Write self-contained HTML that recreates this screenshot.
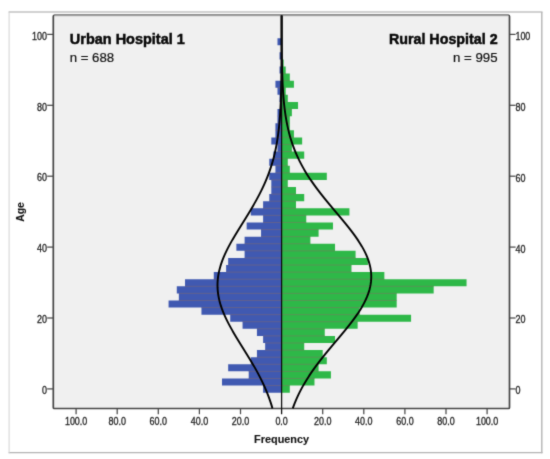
<!DOCTYPE html>
<html lang="en">
<head>
<meta charset="utf-8">
<title>Age distribution by hospital</title>
<style>
html,body{margin:0;padding:0;background:#fff;}
body{width:550px;height:459px;overflow:hidden;}
svg{display:block;}
.t{font-family:"Liberation Sans",sans-serif;font-size:10.3px;fill:#262626;stroke:#262626;stroke-width:0.32px;}
.b{font-family:"Liberation Sans",sans-serif;font-weight:bold;fill:#080808;stroke:#080808;stroke-width:0.5px;}
.a{font-family:"Liberation Sans",sans-serif;font-weight:bold;fill:#141414;stroke:#141414;stroke-width:0.12px;}
.h{font-family:"Liberation Sans",sans-serif;fill:#111;stroke:#111;stroke-width:0.2px;}
</style>
</head>
<body>
<svg width="550" height="459" viewBox="0 0 550 459">
<defs><filter id="soft" filterUnits="userSpaceOnUse" x="0" y="0" width="550" height="459" color-interpolation-filters="sRGB"><feConvolveMatrix order="3" kernelMatrix="0.02 0.09 0.02 0.09 0.56 0.09 0.02 0.09 0.02" divisor="1" edgeMode="duplicate" preserveAlpha="true"/></filter></defs>
<g filter="url(#soft)">
<rect x="0" y="0" width="550" height="459" fill="#ffffff"/>
<g fill="none">
<line x1="8.6" y1="11.9" x2="542.5" y2="11.9" stroke="#c2c2c2" stroke-width="1.5"/>
<line x1="541.8" y1="11.9" x2="541.8" y2="453.3" stroke="#b4b4b4" stroke-width="1.4"/>
<line x1="8.6" y1="452.7" x2="542.5" y2="452.7" stroke="#b4b4b4" stroke-width="1.3"/>
<line x1="9.1" y1="11.9" x2="9.1" y2="453.3" stroke="#d2d2d2" stroke-width="1"/>
</g>
<rect x="53.3" y="15.4" width="456.20" height="393.10" rx="1" fill="#f0f0f0" stroke="#454545" stroke-width="1.7"/>
<line x1="54.3" y1="14.9" x2="508.5" y2="14.9" stroke="#8e8e8e" stroke-width="1.7"/>
<line x1="54.3" y1="16.2" x2="508.5" y2="16.2" stroke="#f0f0f0" stroke-width="1"/>
<path d="M281.60,392.64 L263.11,392.64 L263.11,385.55 L222.01,385.55 L222.01,378.46 L248.72,378.46 L248.72,371.37 L228.17,371.37 L228.17,364.28 L250.78,364.28 L250.78,357.19 L256.94,357.19 L256.94,350.10 L265.16,350.10 L265.16,343.01 L263.11,343.01 L263.11,335.92 L256.94,335.92 L256.94,328.83 L242.56,328.83 L242.56,321.74 L230.23,321.74 L230.23,314.65 L201.46,314.65 L201.46,307.56 L168.58,307.56 L168.58,300.47 L178.85,300.47 L178.85,293.38 L176.80,293.38 L176.80,286.29 L185.02,286.29 L185.02,279.20 L213.79,279.20 L213.79,272.11 L226.12,272.11 L226.12,265.02 L228.17,265.02 L228.17,257.94 L244.61,257.94 L244.61,250.84 L236.39,250.84 L236.39,243.75 L244.61,243.75 L244.61,236.66 L261.05,236.66 L261.05,229.57 L246.67,229.57 L246.67,222.48 L263.11,222.48 L263.11,215.39 L250.78,215.39 L250.78,208.30 L263.11,208.30 L263.11,201.21 L269.27,201.21 L269.27,194.12 L271.33,194.12 L271.33,187.03 L271.33,187.03 L271.33,179.94 L269.27,179.94 L269.27,172.85 L275.44,172.85 L275.44,165.76 L269.27,165.76 L269.27,158.67 L273.38,158.67 L273.38,151.58 L277.49,151.58 L277.49,144.49 L271.33,144.49 L271.33,137.40 L275.44,137.40 L275.44,130.31 L275.44,130.31 L275.44,123.22 L277.49,123.22 L277.49,116.14 L277.49,116.14 L277.49,109.04 L281.60,109.04 L281.60,101.95 L279.55,101.95 L279.55,94.86 L277.49,94.86 L277.49,87.77 L275.44,87.77 L275.44,80.68 L281.60,80.68 L281.60,73.59 L279.55,73.59 L279.55,66.51 L281.60,66.51 L281.60,59.41 L279.55,59.41 L279.55,52.33 L281.60,52.33 L281.60,45.23 L277.49,45.23 L277.49,38.14 L281.60,38.14Z" fill="#4059b1"/>
<path d="M281.60,392.64 L289.82,392.64 L289.82,385.55 L314.48,385.55 L314.48,378.46 L330.92,378.46 L330.92,371.37 L318.59,371.37 L318.59,364.28 L326.81,364.28 L326.81,357.19 L322.70,357.19 L322.70,350.10 L304.21,350.10 L304.21,343.01 L335.03,343.01 L335.03,335.92 L324.75,335.92 L324.75,328.83 L357.64,328.83 L357.64,321.74 L411.07,321.74 L411.07,314.65 L359.69,314.65 L359.69,307.56 L396.68,307.56 L396.68,300.47 L396.68,300.47 L396.68,293.38 L433.67,293.38 L433.67,286.29 L466.55,286.29 L466.55,279.20 L384.35,279.20 L384.35,272.11 L351.47,272.11 L351.47,265.02 L367.91,265.02 L367.91,257.94 L355.58,257.94 L355.58,250.84 L335.03,250.84 L335.03,243.75 L310.37,243.75 L310.37,236.66 L318.59,236.66 L318.59,229.57 L332.98,229.57 L332.98,222.48 L306.26,222.48 L306.26,215.39 L349.42,215.39 L349.42,208.30 L295.99,208.30 L295.99,201.21 L304.21,201.21 L304.21,194.12 L295.99,194.12 L295.99,187.03 L287.77,187.03 L287.77,179.94 L326.81,179.94 L326.81,172.85 L289.82,172.85 L289.82,165.76 L287.77,165.76 L287.77,158.67 L304.21,158.67 L304.21,151.58 L291.88,151.58 L291.88,144.49 L302.15,144.49 L302.15,137.40 L293.93,137.40 L293.93,130.31 L289.82,130.31 L289.82,123.22 L289.82,123.22 L289.82,116.14 L291.88,116.14 L291.88,109.04 L298.04,109.04 L298.04,101.95 L287.77,101.95 L287.77,94.86 L285.71,94.86 L285.71,87.77 L293.93,87.77 L293.93,80.68 L289.82,80.68 L289.82,73.59 L285.71,73.59 L285.71,66.51 L283.66,66.51 L283.66,59.41 L281.60,59.41 L281.60,52.33 L281.60,52.33 L281.60,45.23 L281.60,45.23 L281.60,38.14 L281.60,38.14Z" fill="#2eb848"/>
<g stroke="#8a6a66" stroke-opacity="0.5" stroke-width="0.9">
<line x1="263.11" y1="385.55" x2="281.60" y2="385.55"/>
<line x1="281.60" y1="385.55" x2="289.82" y2="385.55"/>
<line x1="248.72" y1="378.46" x2="281.60" y2="378.46"/>
<line x1="281.60" y1="378.46" x2="314.48" y2="378.46"/>
<line x1="248.72" y1="371.37" x2="281.60" y2="371.37"/>
<line x1="281.60" y1="371.37" x2="318.59" y2="371.37"/>
<line x1="250.78" y1="364.28" x2="281.60" y2="364.28"/>
<line x1="281.60" y1="364.28" x2="318.59" y2="364.28"/>
<line x1="256.94" y1="357.19" x2="281.60" y2="357.19"/>
<line x1="281.60" y1="357.19" x2="322.70" y2="357.19"/>
<line x1="265.16" y1="350.10" x2="281.60" y2="350.10"/>
<line x1="281.60" y1="350.10" x2="304.21" y2="350.10"/>
<line x1="265.16" y1="343.01" x2="281.60" y2="343.01"/>
<line x1="281.60" y1="343.01" x2="304.21" y2="343.01"/>
<line x1="263.11" y1="335.92" x2="281.60" y2="335.92"/>
<line x1="281.60" y1="335.92" x2="324.75" y2="335.92"/>
<line x1="256.94" y1="328.83" x2="281.60" y2="328.83"/>
<line x1="281.60" y1="328.83" x2="324.75" y2="328.83"/>
<line x1="242.56" y1="321.74" x2="281.60" y2="321.74"/>
<line x1="281.60" y1="321.74" x2="357.64" y2="321.74"/>
<line x1="230.23" y1="314.65" x2="281.60" y2="314.65"/>
<line x1="281.60" y1="314.65" x2="359.69" y2="314.65"/>
<line x1="201.46" y1="307.56" x2="281.60" y2="307.56"/>
<line x1="281.60" y1="307.56" x2="359.69" y2="307.56"/>
<line x1="178.85" y1="300.47" x2="281.60" y2="300.47"/>
<line x1="281.60" y1="300.47" x2="396.68" y2="300.47"/>
<line x1="178.85" y1="293.38" x2="281.60" y2="293.38"/>
<line x1="281.60" y1="293.38" x2="396.68" y2="293.38"/>
<line x1="185.02" y1="286.29" x2="281.60" y2="286.29"/>
<line x1="281.60" y1="286.29" x2="433.67" y2="286.29"/>
<line x1="213.79" y1="279.20" x2="281.60" y2="279.20"/>
<line x1="281.60" y1="279.20" x2="384.35" y2="279.20"/>
<line x1="226.12" y1="272.11" x2="281.60" y2="272.11"/>
<line x1="281.60" y1="272.11" x2="351.47" y2="272.11"/>
<line x1="228.17" y1="265.02" x2="281.60" y2="265.02"/>
<line x1="281.60" y1="265.02" x2="351.47" y2="265.02"/>
<line x1="244.61" y1="257.94" x2="281.60" y2="257.94"/>
<line x1="281.60" y1="257.94" x2="355.58" y2="257.94"/>
<line x1="244.61" y1="250.84" x2="281.60" y2="250.84"/>
<line x1="281.60" y1="250.84" x2="335.03" y2="250.84"/>
<line x1="244.61" y1="243.75" x2="281.60" y2="243.75"/>
<line x1="281.60" y1="243.75" x2="310.37" y2="243.75"/>
<line x1="261.05" y1="236.66" x2="281.60" y2="236.66"/>
<line x1="281.60" y1="236.66" x2="310.37" y2="236.66"/>
<line x1="261.05" y1="229.57" x2="281.60" y2="229.57"/>
<line x1="281.60" y1="229.57" x2="318.59" y2="229.57"/>
<line x1="263.11" y1="222.48" x2="281.60" y2="222.48"/>
<line x1="281.60" y1="222.48" x2="306.26" y2="222.48"/>
<line x1="263.11" y1="215.39" x2="281.60" y2="215.39"/>
<line x1="281.60" y1="215.39" x2="306.26" y2="215.39"/>
<line x1="263.11" y1="208.30" x2="281.60" y2="208.30"/>
<line x1="281.60" y1="208.30" x2="295.99" y2="208.30"/>
<line x1="269.27" y1="201.21" x2="281.60" y2="201.21"/>
<line x1="281.60" y1="201.21" x2="295.99" y2="201.21"/>
<line x1="271.33" y1="194.12" x2="281.60" y2="194.12"/>
<line x1="281.60" y1="194.12" x2="295.99" y2="194.12"/>
<line x1="271.33" y1="187.03" x2="281.60" y2="187.03"/>
<line x1="281.60" y1="187.03" x2="287.77" y2="187.03"/>
<line x1="271.33" y1="179.94" x2="281.60" y2="179.94"/>
<line x1="281.60" y1="179.94" x2="287.77" y2="179.94"/>
<line x1="275.44" y1="172.85" x2="281.60" y2="172.85"/>
<line x1="281.60" y1="172.85" x2="289.82" y2="172.85"/>
<line x1="275.44" y1="165.76" x2="281.60" y2="165.76"/>
<line x1="281.60" y1="165.76" x2="287.77" y2="165.76"/>
<line x1="273.38" y1="158.67" x2="281.60" y2="158.67"/>
<line x1="281.60" y1="158.67" x2="287.77" y2="158.67"/>
<line x1="277.49" y1="151.58" x2="281.60" y2="151.58"/>
<line x1="281.60" y1="151.58" x2="291.88" y2="151.58"/>
<line x1="277.49" y1="144.49" x2="281.60" y2="144.49"/>
<line x1="281.60" y1="144.49" x2="291.88" y2="144.49"/>
<line x1="275.44" y1="137.40" x2="281.60" y2="137.40"/>
<line x1="281.60" y1="137.40" x2="293.93" y2="137.40"/>
<line x1="275.44" y1="130.31" x2="281.60" y2="130.31"/>
<line x1="281.60" y1="130.31" x2="289.82" y2="130.31"/>
<line x1="277.49" y1="123.22" x2="281.60" y2="123.22"/>
<line x1="281.60" y1="123.22" x2="289.82" y2="123.22"/>
<line x1="277.49" y1="116.14" x2="281.60" y2="116.14"/>
<line x1="281.60" y1="116.14" x2="289.82" y2="116.14"/>
<line x1="281.60" y1="109.04" x2="291.88" y2="109.04"/>
<line x1="281.60" y1="101.95" x2="287.77" y2="101.95"/>
<line x1="279.55" y1="94.86" x2="281.60" y2="94.86"/>
<line x1="281.60" y1="94.86" x2="285.71" y2="94.86"/>
<line x1="277.49" y1="87.77" x2="281.60" y2="87.77"/>
<line x1="281.60" y1="87.77" x2="285.71" y2="87.77"/>
<line x1="281.60" y1="80.68" x2="289.82" y2="80.68"/>
<line x1="281.60" y1="73.59" x2="285.71" y2="73.59"/>
<line x1="281.60" y1="66.51" x2="283.66" y2="66.51"/>
</g>
<path d="M281.59,15.4 L281.59,16.4 L281.59,17.4 L281.59,18.4 L281.59,19.4 L281.59,20.4 L281.59,21.4 L281.59,22.4 L281.59,23.4 L281.59,24.4 L281.59,25.4 L281.59,26.4 L281.59,27.4 L281.59,28.4 L281.59,29.4 L281.58,30.4 L281.58,31.4 L281.58,32.4 L281.58,33.4 L281.58,34.4 L281.58,35.4 L281.58,36.4 L281.58,37.4 L281.57,38.4 L281.57,39.4 L281.57,40.4 L281.57,41.4 L281.57,42.4 L281.56,43.4 L281.56,44.4 L281.56,45.4 L281.56,46.4 L281.56,47.4 L281.55,48.4 L281.55,49.4 L281.55,50.4 L281.54,51.4 L281.54,52.4 L281.54,53.4 L281.53,54.4 L281.53,55.4 L281.52,56.4 L281.52,57.4 L281.51,58.4 L281.51,59.4 L281.50,60.4 L281.50,61.4 L281.49,62.4 L281.48,63.4 L281.48,64.4 L281.47,65.4 L281.46,66.4 L281.46,67.4 L281.45,68.4 L281.44,69.4 L281.43,70.4 L281.42,71.4 L281.41,72.4 L281.40,73.4 L281.39,74.4 L281.38,75.4 L281.36,76.4 L281.35,77.4 L281.34,78.4 L281.32,79.4 L281.31,80.4 L281.29,81.4 L281.27,82.4 L281.26,83.4 L281.24,84.4 L281.22,85.4 L281.20,86.4 L281.18,87.4 L281.16,88.4 L281.13,89.4 L281.11,90.4 L281.09,91.4 L281.06,92.4 L281.03,93.4 L281.00,94.4 L280.97,95.4 L280.94,96.4 L280.91,97.4 L280.88,98.4 L280.84,99.4 L280.80,100.4 L280.76,101.4 L280.72,102.4 L280.68,103.4 L280.64,104.4 L280.59,105.4 L280.55,106.4 L280.50,107.4 L280.45,108.4 L280.39,109.4 L280.34,110.4 L280.28,111.4 L280.22,112.4 L280.16,113.4 L280.09,114.4 L280.02,115.4 L279.95,116.4 L279.88,117.4 L279.80,118.4 L279.73,119.4 L279.64,120.4 L279.56,121.4 L279.47,122.4 L279.38,123.4 L279.29,124.4 L279.19,125.4 L279.09,126.4 L278.99,127.4 L278.88,128.4 L278.77,129.4 L278.65,130.4 L278.53,131.4 L278.41,132.4 L278.28,133.4 L278.15,134.4 L278.01,135.4 L277.87,136.4 L277.73,137.4 L277.58,138.4 L277.43,139.4 L277.27,140.4 L277.10,141.4 L276.94,142.4 L276.76,143.4 L276.58,144.4 L276.40,145.4 L276.21,146.4 L276.01,147.4 L275.81,148.4 L275.61,149.4 L275.40,150.4 L275.18,151.4 L274.95,152.4 L274.72,153.4 L274.49,154.4 L274.25,155.4 L274.00,156.4 L273.74,157.4 L273.48,158.4 L273.21,159.4 L272.94,160.4 L272.66,161.4 L272.37,162.4 L272.08,163.4 L271.77,164.4 L271.47,165.4 L271.15,166.4 L270.83,167.4 L270.50,168.4 L270.16,169.4 L269.82,170.4 L269.47,171.4 L269.11,172.4 L268.74,173.4 L268.37,174.4 L267.99,175.4 L267.60,176.4 L267.21,177.4 L266.80,178.4 L266.39,179.4 L265.98,180.4 L265.55,181.4 L265.12,182.4 L264.68,183.4 L264.23,184.4 L263.78,185.4 L263.32,186.4 L262.85,187.4 L262.38,188.4 L261.90,189.4 L261.41,190.4 L260.91,191.4 L260.41,192.4 L259.90,193.4 L259.39,194.4 L258.87,195.4 L258.34,196.4 L257.80,197.4 L257.26,198.4 L256.72,199.4 L256.17,200.4 L255.61,201.4 L255.05,202.4 L254.48,203.4 L253.91,204.4 L253.33,205.4 L252.75,206.4 L252.16,207.4 L251.57,208.4 L250.98,209.4 L250.38,210.4 L249.78,211.4 L249.17,212.4 L248.56,213.4 L247.95,214.4 L247.34,215.4 L246.72,216.4 L246.11,217.4 L245.49,218.4 L244.87,219.4 L244.24,220.4 L243.62,221.4 L243.00,222.4 L242.37,223.4 L241.75,224.4 L241.13,225.4 L240.51,226.4 L239.89,227.4 L239.27,228.4 L238.65,229.4 L238.04,230.4 L237.42,231.4 L236.82,232.4 L236.21,233.4 L235.61,234.4 L235.01,235.4 L234.41,236.4 L233.82,237.4 L233.24,238.4 L232.66,239.4 L232.09,240.4 L231.52,241.4 L230.96,242.4 L230.41,243.4 L229.86,244.4 L229.32,245.4 L228.79,246.4 L228.27,247.4 L227.75,248.4 L227.25,249.4 L226.75,250.4 L226.27,251.4 L225.79,252.4 L225.33,253.4 L224.87,254.4 L224.43,255.4 L224.00,256.4 L223.57,257.4 L223.17,258.4 L222.77,259.4 L222.38,260.4 L222.01,261.4 L221.66,262.4 L221.31,263.4 L220.98,264.4 L220.66,265.4 L220.36,266.4 L220.07,267.4 L219.79,268.4 L219.54,269.4 L219.29,270.4 L219.06,271.4 L218.85,272.4 L218.65,273.4 L218.46,274.4 L218.30,275.4 L218.14,276.4 L218.01,277.4 L217.89,278.4 L217.78,279.4 L217.70,280.4 L217.63,281.4 L217.57,282.4 L217.53,283.4 L217.51,284.4 L217.50,285.4 L217.52,286.4 L217.54,287.4 L217.59,288.4 L217.65,289.4 L217.72,290.4 L217.82,291.4 L217.93,292.4 L218.05,293.4 L218.19,294.4 L218.35,295.4 L218.52,296.4 L218.71,297.4 L218.92,298.4 L219.14,299.4 L219.37,300.4 L219.62,301.4 L219.89,302.4 L220.17,303.4 L220.46,304.4 L220.77,305.4 L221.09,306.4 L221.43,307.4 L221.77,308.4 L222.14,309.4 L222.51,310.4 L222.90,311.4 L223.30,312.4 L223.71,313.4 L224.14,314.4 L224.58,315.4 L225.02,316.4 L225.48,317.4 L225.95,318.4 L226.43,319.4 L226.92,320.4 L227.42,321.4 L227.93,322.4 L228.44,323.4 L228.97,324.4 L229.50,325.4 L230.04,326.4 L230.59,327.4 L231.15,328.4 L231.71,329.4 L232.28,330.4 L232.86,331.4 L233.44,332.4 L234.02,333.4 L234.61,334.4 L235.21,335.4 L235.81,336.4 L236.41,337.4 L237.02,338.4 L237.63,339.4 L238.24,340.4 L238.86,341.4 L239.48,342.4 L240.10,343.4 L240.72,344.4 L241.34,345.4 L241.96,346.4 L242.58,347.4 L243.21,348.4 L243.83,349.4 L244.45,350.4 L245.07,351.4 L245.69,352.4 L246.31,353.4 L246.93,354.4 L247.55,355.4 L248.16,356.4 L248.77,357.4 L249.38,358.4 L249.98,359.4 L250.58,360.4 L251.18,361.4 L251.77,362.4 L252.36,363.4 L252.94,364.4 L253.53,365.4 L254.10,366.4 L254.67,367.4 L255.24,368.4 L255.80,369.4 L256.35,370.4 L256.90,371.4 L257.45,372.4 L257.98,373.4 L258.52,374.4 L259.04,375.4 L259.56,376.4 L260.07,377.4 L260.58,378.4 L261.08,379.4 L261.57,380.4 L262.06,381.4 L262.54,382.4 L263.01,383.4 L263.48,384.4 L263.93,385.4 L264.39,386.4 L264.83,387.4 L265.27,388.4 L265.70,389.4 L266.12,390.4 L266.53,391.4 L266.94,392.4 L267.34,393.4 L267.73,394.4 L268.12,395.4 L268.49,396.4 L268.87,397.4 L269.23,398.4 L269.58,399.4 L269.93,400.4 L270.27,401.4 L270.61,402.4 L270.94,403.4 L271.26,404.4 L271.57,405.4 L271.88,406.4 L272.18,407.4 L272.47,408.4" fill="none" stroke="#000" stroke-width="1.9" stroke-linejoin="round"/>
<path d="M281.62,15.4 L281.63,16.4 L281.63,17.4 L281.63,18.4 L281.63,19.4 L281.63,20.4 L281.64,21.4 L281.64,22.4 L281.64,23.4 L281.64,24.4 L281.65,25.4 L281.65,26.4 L281.65,27.4 L281.65,28.4 L281.66,29.4 L281.66,30.4 L281.67,31.4 L281.67,32.4 L281.67,33.4 L281.68,34.4 L281.68,35.4 L281.69,36.4 L281.69,37.4 L281.70,38.4 L281.70,39.4 L281.71,40.4 L281.72,41.4 L281.72,42.4 L281.73,43.4 L281.74,44.4 L281.74,45.4 L281.75,46.4 L281.76,47.4 L281.77,48.4 L281.78,49.4 L281.79,50.4 L281.80,51.4 L281.81,52.4 L281.82,53.4 L281.84,54.4 L281.85,55.4 L281.86,56.4 L281.88,57.4 L281.89,58.4 L281.91,59.4 L281.92,60.4 L281.94,61.4 L281.96,62.4 L281.98,63.4 L282.00,64.4 L282.02,65.4 L282.04,66.4 L282.06,67.4 L282.09,68.4 L282.11,69.4 L282.14,70.4 L282.17,71.4 L282.20,72.4 L282.23,73.4 L282.26,74.4 L282.29,75.4 L282.32,76.4 L282.36,77.4 L282.40,78.4 L282.43,79.4 L282.47,80.4 L282.52,81.4 L282.56,82.4 L282.61,83.4 L282.65,84.4 L282.70,85.4 L282.76,86.4 L282.81,87.4 L282.87,88.4 L282.92,89.4 L282.99,90.4 L283.05,91.4 L283.11,92.4 L283.18,93.4 L283.25,94.4 L283.33,95.4 L283.40,96.4 L283.48,97.4 L283.57,98.4 L283.65,99.4 L283.74,100.4 L283.83,101.4 L283.93,102.4 L284.03,103.4 L284.13,104.4 L284.24,105.4 L284.35,106.4 L284.46,107.4 L284.58,108.4 L284.70,109.4 L284.83,110.4 L284.96,111.4 L285.10,112.4 L285.24,113.4 L285.38,114.4 L285.53,115.4 L285.69,116.4 L285.85,117.4 L286.01,118.4 L286.19,119.4 L286.36,120.4 L286.54,121.4 L286.73,122.4 L286.92,123.4 L287.12,124.4 L287.33,125.4 L287.54,126.4 L287.76,127.4 L287.98,128.4 L288.21,129.4 L288.45,130.4 L288.69,131.4 L288.94,132.4 L289.20,133.4 L289.47,134.4 L289.74,135.4 L290.02,136.4 L290.31,137.4 L290.60,138.4 L290.91,139.4 L291.22,140.4 L291.54,141.4 L291.86,142.4 L292.20,143.4 L292.54,144.4 L292.89,145.4 L293.26,146.4 L293.62,147.4 L294.00,148.4 L294.39,149.4 L294.78,150.4 L295.19,151.4 L295.60,152.4 L296.03,153.4 L296.46,154.4 L296.90,155.4 L297.35,156.4 L297.81,157.4 L298.28,158.4 L298.76,159.4 L299.25,160.4 L299.74,161.4 L300.25,162.4 L300.77,163.4 L301.30,164.4 L301.83,165.4 L302.38,166.4 L302.93,167.4 L303.50,168.4 L304.07,169.4 L304.66,170.4 L305.25,171.4 L305.85,172.4 L306.47,173.4 L307.09,174.4 L307.72,175.4 L308.36,176.4 L309.01,177.4 L309.67,178.4 L310.33,179.4 L311.01,180.4 L311.70,181.4 L312.39,182.4 L313.09,183.4 L313.80,184.4 L314.52,185.4 L315.25,186.4 L315.98,187.4 L316.72,188.4 L317.47,189.4 L318.23,190.4 L318.99,191.4 L319.76,192.4 L320.53,193.4 L321.32,194.4 L322.11,195.4 L322.90,196.4 L323.70,197.4 L324.50,198.4 L325.31,199.4 L326.13,200.4 L326.95,201.4 L327.77,202.4 L328.59,203.4 L329.42,204.4 L330.26,205.4 L331.09,206.4 L331.93,207.4 L332.77,208.4 L333.61,209.4 L334.45,210.4 L335.29,211.4 L336.13,212.4 L336.98,213.4 L337.82,214.4 L338.66,215.4 L339.50,216.4 L340.34,217.4 L341.17,218.4 L342.01,219.4 L342.84,220.4 L343.66,221.4 L344.49,222.4 L345.31,223.4 L346.12,224.4 L346.93,225.4 L347.73,226.4 L348.53,227.4 L349.32,228.4 L350.10,229.4 L350.87,230.4 L351.64,231.4 L352.40,232.4 L353.15,233.4 L353.89,234.4 L354.62,235.4 L355.34,236.4 L356.05,237.4 L356.74,238.4 L357.43,239.4 L358.10,240.4 L358.76,241.4 L359.41,242.4 L360.05,243.4 L360.67,244.4 L361.27,245.4 L361.87,246.4 L362.44,247.4 L363.01,248.4 L363.55,249.4 L364.08,250.4 L364.59,251.4 L365.09,252.4 L365.57,253.4 L366.03,254.4 L366.48,255.4 L366.90,256.4 L367.31,257.4 L367.70,258.4 L368.07,259.4 L368.42,260.4 L368.75,261.4 L369.06,262.4 L369.35,263.4 L369.62,264.4 L369.87,265.4 L370.10,266.4 L370.31,267.4 L370.50,268.4 L370.66,269.4 L370.81,270.4 L370.94,271.4 L371.04,272.4 L371.12,273.4 L371.18,274.4 L371.22,275.4 L371.24,276.4 L371.24,277.4 L371.21,278.4 L371.16,279.4 L371.09,280.4 L371.01,281.4 L370.89,282.4 L370.76,283.4 L370.61,284.4 L370.43,285.4 L370.24,286.4 L370.02,287.4 L369.78,288.4 L369.53,289.4 L369.25,290.4 L368.95,291.4 L368.63,292.4 L368.30,293.4 L367.94,294.4 L367.56,295.4 L367.17,296.4 L366.75,297.4 L366.32,298.4 L365.87,299.4 L365.40,300.4 L364.92,301.4 L364.42,302.4 L363.90,303.4 L363.36,304.4 L362.81,305.4 L362.24,306.4 L361.66,307.4 L361.06,308.4 L360.45,309.4 L359.82,310.4 L359.18,311.4 L358.53,312.4 L357.87,313.4 L357.19,314.4 L356.50,315.4 L355.80,316.4 L355.08,317.4 L354.36,318.4 L353.63,319.4 L352.88,320.4 L352.13,321.4 L351.37,322.4 L350.60,323.4 L349.82,324.4 L349.04,325.4 L348.25,326.4 L347.45,327.4 L346.64,328.4 L345.83,329.4 L345.02,330.4 L344.20,331.4 L343.37,332.4 L342.54,333.4 L341.71,334.4 L340.88,335.4 L340.04,336.4 L339.20,337.4 L338.36,338.4 L337.52,339.4 L336.68,340.4 L335.84,341.4 L334.99,342.4 L334.15,343.4 L333.31,344.4 L332.47,345.4 L331.63,346.4 L330.80,347.4 L329.96,348.4 L329.13,349.4 L328.30,350.4 L327.48,351.4 L326.66,352.4 L325.84,353.4 L325.03,354.4 L324.22,355.4 L323.42,356.4 L322.62,357.4 L321.83,358.4 L321.04,359.4 L320.26,360.4 L319.49,361.4 L318.72,362.4 L317.96,363.4 L317.20,364.4 L316.46,365.4 L315.72,366.4 L314.99,367.4 L314.26,368.4 L313.55,369.4 L312.84,370.4 L312.14,371.4 L311.45,372.4 L310.77,373.4 L310.10,374.4 L309.43,375.4 L308.78,376.4 L308.13,377.4 L307.50,378.4 L306.87,379.4 L306.25,380.4 L305.64,381.4 L305.04,382.4 L304.45,383.4 L303.87,384.4 L303.30,385.4 L302.74,386.4 L302.18,387.4 L301.64,388.4 L301.11,389.4 L300.58,390.4 L300.07,391.4 L299.57,392.4 L299.07,393.4 L298.59,394.4 L298.11,395.4 L297.65,396.4 L297.19,397.4 L296.74,398.4 L296.30,399.4 L295.88,400.4 L295.46,401.4 L295.05,402.4 L294.64,403.4 L294.25,404.4 L293.87,405.4 L293.49,406.4 L293.13,407.4 L292.77,408.4" fill="none" stroke="#000" stroke-width="1.9" stroke-linejoin="round"/>
<line x1="281.6" y1="15.4" x2="281.6" y2="414.2" stroke="#0a0a0a" stroke-width="1.25"/>
<g stroke="#484848" stroke-width="1.25">
<line x1="47.2" y1="388.90" x2="53.3" y2="388.90"/>
<line x1="509.5" y1="388.90" x2="515.6" y2="388.90"/>
<line x1="47.2" y1="318.00" x2="53.3" y2="318.00"/>
<line x1="509.5" y1="318.00" x2="515.6" y2="318.00"/>
<line x1="47.2" y1="247.10" x2="53.3" y2="247.10"/>
<line x1="509.5" y1="247.10" x2="515.6" y2="247.10"/>
<line x1="47.2" y1="176.20" x2="53.3" y2="176.20"/>
<line x1="509.5" y1="176.20" x2="515.6" y2="176.20"/>
<line x1="47.2" y1="105.30" x2="53.3" y2="105.30"/>
<line x1="509.5" y1="105.30" x2="515.6" y2="105.30"/>
<line x1="47.2" y1="34.40" x2="53.3" y2="34.40"/>
<line x1="509.5" y1="34.40" x2="515.6" y2="34.40"/>
<line x1="76.10" y1="408.5" x2="76.10" y2="414.2"/>
<line x1="117.20" y1="408.5" x2="117.20" y2="414.2"/>
<line x1="158.30" y1="408.5" x2="158.30" y2="414.2"/>
<line x1="199.40" y1="408.5" x2="199.40" y2="414.2"/>
<line x1="240.50" y1="408.5" x2="240.50" y2="414.2"/>
<line x1="322.70" y1="408.5" x2="322.70" y2="414.2"/>
<line x1="363.80" y1="408.5" x2="363.80" y2="414.2"/>
<line x1="404.90" y1="408.5" x2="404.90" y2="414.2"/>
<line x1="446.00" y1="408.5" x2="446.00" y2="414.2"/>
<line x1="487.10" y1="408.5" x2="487.10" y2="414.2"/>
</g>
<text class="t" transform="translate(46.9,394.10) scale(0.87,1)" text-anchor="end">0</text>
<text class="t" transform="translate(515.4,394.30) scale(0.87,1)" text-anchor="start">0</text>
<text class="t" transform="translate(46.9,323.20) scale(0.87,1)" text-anchor="end">20</text>
<text class="t" transform="translate(515.4,323.40) scale(0.87,1)" text-anchor="start">20</text>
<text class="t" transform="translate(46.9,252.30) scale(0.87,1)" text-anchor="end">40</text>
<text class="t" transform="translate(515.4,252.50) scale(0.87,1)" text-anchor="start">40</text>
<text class="t" transform="translate(46.9,181.40) scale(0.87,1)" text-anchor="end">60</text>
<text class="t" transform="translate(515.4,181.60) scale(0.87,1)" text-anchor="start">60</text>
<text class="t" transform="translate(46.9,110.50) scale(0.87,1)" text-anchor="end">80</text>
<text class="t" transform="translate(515.4,110.70) scale(0.87,1)" text-anchor="start">80</text>
<text class="t" transform="translate(46.9,39.60) scale(0.87,1)" text-anchor="end">100</text>
<text class="t" transform="translate(515.4,39.80) scale(0.87,1)" text-anchor="start">100</text>
<text class="t" transform="translate(76.10,424.9) scale(0.87,1)" text-anchor="middle">100.0</text>
<text class="t" transform="translate(117.20,424.9) scale(0.87,1)" text-anchor="middle">80.0</text>
<text class="t" transform="translate(158.30,424.9) scale(0.87,1)" text-anchor="middle">60.0</text>
<text class="t" transform="translate(199.40,424.9) scale(0.87,1)" text-anchor="middle">40.0</text>
<text class="t" transform="translate(240.50,424.9) scale(0.87,1)" text-anchor="middle">20.0</text>
<text class="t" transform="translate(281.60,424.9) scale(0.87,1)" text-anchor="middle">0.0</text>
<text class="t" transform="translate(322.70,424.9) scale(0.87,1)" text-anchor="middle">20.0</text>
<text class="t" transform="translate(363.80,424.9) scale(0.87,1)" text-anchor="middle">40.0</text>
<text class="t" transform="translate(404.90,424.9) scale(0.87,1)" text-anchor="middle">60.0</text>
<text class="t" transform="translate(446.00,424.9) scale(0.87,1)" text-anchor="middle">80.0</text>
<text class="t" transform="translate(487.10,424.9) scale(0.87,1)" text-anchor="middle">100.0</text>
<text class="a" x="281.6" y="442.7" font-size="10.6" text-anchor="middle" textLength="55" lengthAdjust="spacingAndGlyphs">Frequency</text>
<text class="a" transform="translate(23.9,212) rotate(-90)" font-size="10.4" text-anchor="middle">Age</text>
<text class="b" x="69.8" y="44.1" font-size="15.5" textLength="115" lengthAdjust="spacingAndGlyphs">Urban Hospital 1</text>
<text class="h" x="69.8" y="62" font-size="12.6" textLength="44.3" lengthAdjust="spacingAndGlyphs">n = 688</text>
<text class="b" x="388.9" y="43.9" font-size="15.5" textLength="108.7" lengthAdjust="spacingAndGlyphs">Rural Hospital 2</text>
<text class="h" x="453" y="62" font-size="12.6" textLength="44.6" lengthAdjust="spacingAndGlyphs">n = 995</text>
</g>
</svg>
</body>
</html>
